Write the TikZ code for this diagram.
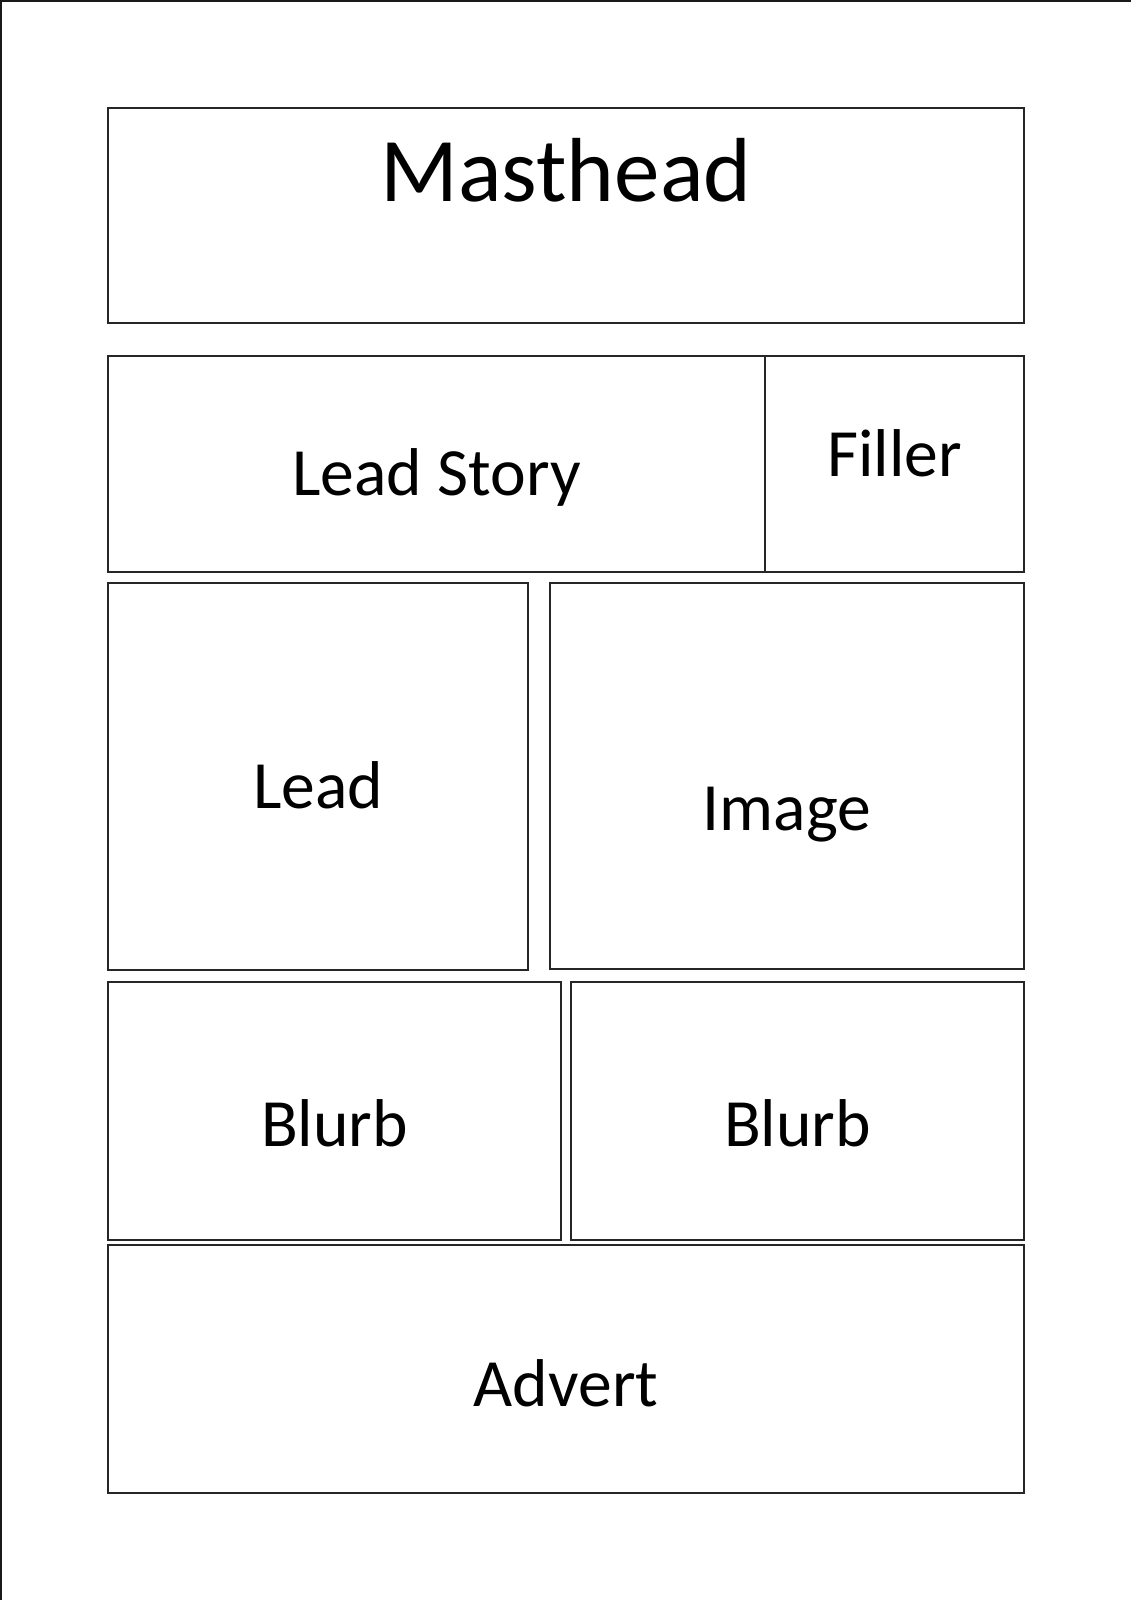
\documentclass[tikz,border=0pt]{standalone}
\usepackage{fontspec}
\setmainfont{Carlito}
\usepackage{tikz}
\usetikzlibrary{positioning}

\tikzset{
    panel/.style={draw=black!85, line width=1pt, inner sep=0pt,
        outer sep=0pt, fill=white},
    paneltext/.style={anchor=base, inner sep=0pt,
        font=\fontsize{33.8}{37}\selectfont},
}

\begin{document}
\begin{tikzpicture}[x=0.5pt, y=-0.5pt]

    \useasboundingbox (0,0) rectangle (1131,1600);

    % page edge
    \draw[line width=1pt, black!90] (1,1600) -- (1,1) -- (1131,1);

    % masthead
    \node [panel,
        minimum width=458pt,
        minimum height=107.5pt
    ] (masthead) at (566,215.5) {};
    \node [paneltext, font=\fontsize{45.5}{49}\selectfont]
        (mastheadtext) at (566,201) {Masthead};

    % lead story and filler
    \node [panel,
        minimum width=328.5pt,
        minimum height=108pt
    ] (leadstory) at (436.5,464) {};
    \node [panel,
        minimum width=129.5pt,
        minimum height=108pt,
        right=0pt of leadstory
    ] (filler) {};
    \node [paneltext] (leadstorytext) at (436.5,495) {Lead Story};
    \node [paneltext] (fillertext) at (894.5,476) {Filler};

    % lead and image
    \node [panel,
        minimum width=210pt,
        minimum height=193.5pt
    ] (lead) at (318,776.5) {};
    \node [panel,
        minimum width=237pt,
        minimum height=193pt
    ] (image) at (787,776) {};
    \node [paneltext] (leadtext) at (318,808) {Lead};
    \node [paneltext] (imagetext) at (787,830) {Image};

    % blurbs
    \node [panel,
        minimum width=226.5pt,
        minimum height=129pt
    ] (blurbleft) at (334.5,1111) {};
    \node [panel,
        minimum width=226.5pt,
        minimum height=129pt
    ] (blurbright) at (797.5,1111) {};
    \node [paneltext] (blurblefttext) at (334.5,1146) {Blurb};
    \node [paneltext] (blurbrighttext) at (797.5,1146) {Blurb};

    % advert
    \node [panel,
        minimum width=458pt,
        minimum height=124pt
    ] (advert) at (566,1369) {};
    \node [paneltext] (adverttext) at (566,1406) {Advert};

\end{tikzpicture}
\end{document}
